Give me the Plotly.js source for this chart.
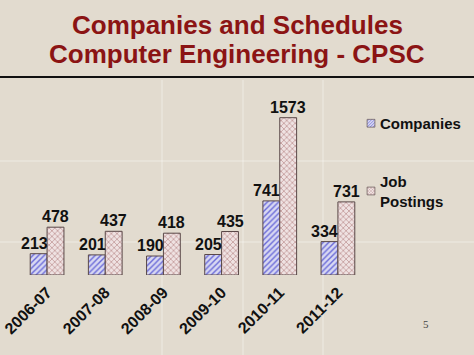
<!DOCTYPE html>
<html>
<head>
<meta charset="utf-8">
<script src="https://cdn.plot.ly/plotly-3.0.1.min.js"></script>
<style>html,body{margin:0;padding:0;background:#e2dbcf;}#chart{width:474px;height:355px;}</style>
</head>
<body>
<div id="chart"></div>
<script>
const years = ["2006-07", "2007-08", "2008-09", "2009-10", "2010-11", "2011-12"];
const companies = [213, 201, 190, 205, 741, 334];
const postings = [478, 437, 418, 435, 1573, 731];
const seriesNames = ["<b>Companies</b>", "<b>Job</b><br><b>Postings</b>"];
const titleLines = ["Companies and Schedules", "Computer Engineering - CPSC"];

const W = 474, H = 355;
const L = 18, R = 107, T = 95, B = 80;
const pw = W - L - R, ph = H - T - B;
const px2x = p => (p - L) / pw;
const px2y = p => (H - B - p) / ph;

const labelFont = {family: "Liberation Sans, Arial, sans-serif", size: 16, color: "#111", weight: "bold"};

const traces = [
  {
    type: "bar", x: years, y: companies, name: seriesNames[0], hoverinfo: "none",
    marker: {color: "#d8d8f2", line: {color: "#5a4848", width: 1},
      pattern: {shape: "/", fgcolor: "#6a6ad8", bgcolor: "#d8d8f2", size: 4, solidity: 0.35}},
    legend: "legend"
  },
  {
    type: "bar", x: years, y: postings, name: seriesNames[1], hoverinfo: "none",
    marker: {color: "#efe2e2", line: {color: "#5a4848", width: 1},
      pattern: {shape: "x", fgcolor: "#b88a8a", bgcolor: "#efe2e2", size: 4, solidity: 0.3}},
    legend: "legend2"
  }
];

const shapes = [
  {type: "line", xref: "paper", yref: "paper", x0: px2x(0), x1: px2x(W), y0: px2y(77), y1: px2y(77),
   line: {color: "#111", width: 2}},
];
[162, 243, 323].forEach(v => shapes.push({type: "line", xref: "paper", yref: "paper", layer: "below",
  x0: px2x(v), x1: px2x(v), y0: px2y(80), y1: px2y(H), line: {color: "rgba(255,255,255,0.45)", width: 1}}));
[161, 242].forEach(v => shapes.push({type: "line", xref: "paper", yref: "paper", layer: "below",
  x0: px2x(0), x1: px2x(W), y0: px2y(v), y1: px2y(v), line: {color: "rgba(255,255,255,0.45)", width: 1}}));

const legendFont = {family: "Liberation Sans, Arial, sans-serif", size: 15, color: "#111"};
const titleFont = {family: "Liberation Sans, Arial, sans-serif", size: 26, color: "#8b1414", weight: "bold"};

// value labels, placed on the category axis and shifted onto each bar of the group
const valueLabels = [];
years.forEach((yr, i) => {
  valueLabels.push({x: yr, y: companies[i], xref: "x", yref: "y", text: String(companies[i]),
    showarrow: false, xanchor: "center", yanchor: "bottom", xshift: -13, yshift: 0, font: labelFont});
  valueLabels.push({x: yr, y: postings[i], xref: "x", yref: "y", text: String(postings[i]),
    showarrow: false, xanchor: "center", yanchor: "bottom", xshift: 8.5, yshift: 0, font: labelFont});
});

const layout = {
  width: W, height: H,
  paper_bgcolor: "#e2dbcf", plot_bgcolor: "rgba(0,0,0,0)",
  margin: {l: L, r: R, t: T, b: B, pad: 0, autoexpand: false},
  barmode: "group", bargap: 0.42, bargroupgap: 0,
  xaxis: {
    type: "category", range: [-0.5, 5.5], tickangle: -45, automargin: false, ticklabelstandoff: 4,
    tickfont: {family: "Liberation Sans, Arial, sans-serif", size: 16, color: "#111", weight: "bold"},
    showgrid: false, zeroline: false, showline: false, ticks: ""
  },
  yaxis: {range: [0, 1800], visible: false, showgrid: false, zeroline: false, automargin: false},
  showlegend: true,
  legend: {x: px2x(340), xanchor: "left", y: px2y(107), yanchor: "top", tracegroupgap: 0,
    bgcolor: "rgba(0,0,0,0)", font: legendFont},
  legend2: {x: px2x(340), xanchor: "left", y: px2y(165), yanchor: "top",
    bgcolor: "rgba(0,0,0,0)", font: legendFont},
  shapes: shapes,
  annotations: [
    {text: titleLines[0], xref: "paper", yref: "paper", x: px2x(237), y: px2y(25), showarrow: false,
     xanchor: "center", yanchor: "middle", font: titleFont},
    {text: titleLines[1], xref: "paper", yref: "paper", x: px2x(237), y: px2y(54), showarrow: false,
     xanchor: "center", yanchor: "middle", font: titleFont},
    {text: "5", xref: "paper", yref: "paper", x: px2x(431), y: px2y(332), showarrow: false,
     font: {family: "Liberation Serif, serif", size: 11, color: "#444"}}
  ].concat(valueLabels)
};

Plotly.newPlot("chart", traces, layout, {displayModeBar: false, staticPlot: true}).then(() => {
  // smaller legend swatches, as in the slide
  document.querySelectorAll(".legendpoints path").forEach(p => {
    const t = p.getAttribute("transform") || "";
    p.setAttribute("transform", t + " translate(11,0) scale(0.65)");
  });
});
</script>
</body>
</html>
